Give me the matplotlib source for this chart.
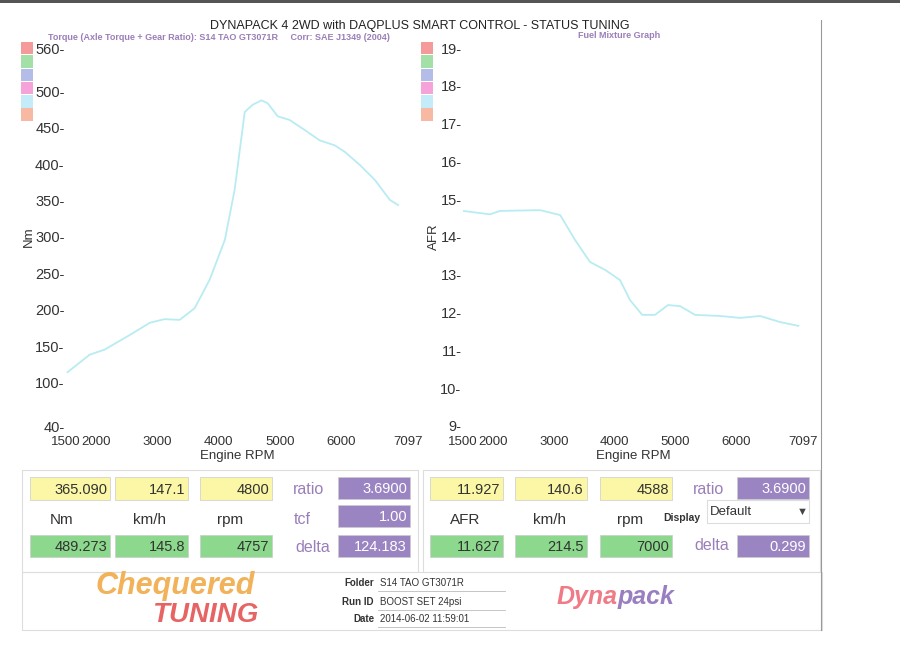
import matplotlib
matplotlib.use("Agg")
import matplotlib.pyplot as plt
from matplotlib.patches import Rectangle

plt.rcParams['font.family'] = ['Liberation Sans', 'DejaVu Sans']

rpm_t = [1525, 1885, 2130, 2540, 2870, 3115, 3360, 3605, 3850, 4100, 4260, 4425, 4555, 4700, 4800,
         4965, 5160, 5410, 5650, 5900, 6065, 6310, 6560, 6800, 6935]
torque = [114, 138, 145, 165, 182, 187, 186, 202, 241, 296, 365, 472, 482, 488, 484,
          466, 461, 447, 433, 426, 417, 399, 378, 351, 344]
rpm_a = [1500, 1945, 2110, 2770, 3100, 3345, 3590, 3840, 4085, 4250, 4450, 4660, 4875, 5075,
         5320, 5735, 6065, 6390, 6720, 7020]
afr = [14.69, 14.6, 14.69, 14.71, 14.58, 13.92, 13.34, 13.13, 12.86, 12.33, 11.94, 11.94, 12.2,
       12.17, 11.94, 11.91, 11.86, 11.91, 11.75, 11.65]
x_ticks = [1500, 2000, 3000, 4000, 5000, 6000, 7097]
t_ticks = [40, 100, 150, 200, 250, 300, 350, 400, 450, 500, 560]
a_ticks = [9, 10, 11, 12, 13, 14, 15, 16, 17, 18, 19]

W, H = 900, 654
fig = plt.figure(figsize=(9, 6.54), dpi=100)
fig.patch.set_facecolor('white')
CURVE = '#b8ecf2'
PURP = '#9b7fb8'
TXT = '#333333'

def ax_px(x0, y0, x1, y1):
    return fig.add_axes([x0 / W, 1 - y1 / H, (x1 - x0) / W, (y1 - y0) / H])

def rect(x, y, w, h, fc, ec='none', lw=0.8):
    fig.patches.append(Rectangle((x / W, 1 - (y + h) / H), w / W, h / H, transform=fig.transFigure,
                                 facecolor=fc, edgecolor=ec, linewidth=lw))

def text(x, y, s, **kw):
    fig.text(x / W, 1 - y / H, s, **kw)

def style(ax, yt, ylab):
    ax.set_xlim(1500, 7097)
    for s in ax.spines.values():
        s.set_visible(False)
    ax.set_xticks(x_ticks)
    ax.set_yticks(yt)
    ax.set_yticklabels([f"{v}-" for v in yt])
    ax.tick_params(axis='y', length=0, labelsize=10.5, colors=TXT, pad=1)
    ax.tick_params(axis='x', length=0, labelsize=9.5, colors=TXT, pad=7)
    ax.set_xlabel('Engine RPM', fontsize=9.5, color=TXT, labelpad=2)
    ax.set_ylabel(ylab, fontsize=9.5, color=TXT, labelpad=0)
    ax.patch.set_alpha(0)

ax1 = ax_px(66, 48, 408, 426)
ax1.plot(rpm_t, torque, color=CURVE, lw=1.3)
ax1.set_ylim(40, 560)
style(ax1, t_ticks, 'Nm')

ax2 = ax_px(463, 48, 803, 426)
ax2.plot(rpm_a, afr, color=CURVE, lw=1.3)
ax2.set_ylim(9, 19)
style(ax2, a_ticks, 'AFR')

# swatches
sw = ['#f59a9a', '#a2e0a8', '#b4bde8', '#f5a3d8', '#c3ecf8', '#f8b9a4']
for xs in (21, 421):
    for i, c in enumerate(sw):
        rect(xs, 42 + i * 13.3, 12, 12.3, c)

# page elements
rect(0, 0, 900, 3, '#555555')
fig.lines.append(plt.Line2D([821 / W, 821 / W], [1 - 20 / H, 1 - 630 / H], transform=fig.transFigure,
                            color='#999999', lw=0.8))
text(420, 26, 'DYNAPACK 4 2WD with DAQPLUS SMART CONTROL - STATUS TUNING', ha='center', va='center',
     fontsize=9, color='#222222')
text(48, 37, 'Torque (Axle Torque + Gear Ratio): S14 TAO GT3071R     Corr: SAE J1349 (2004)', ha='left',
     va='center', fontsize=6.5, color=PURP, fontweight='bold')
text(660, 36, 'Fuel Mixture Graph', ha='right', va='center', fontsize=6.5, color=PURP, fontweight='bold')

# bottom panels
rect(22, 470, 396, 102, 'none', ec='#dddddd')
rect(423, 470, 397, 102, 'none', ec='#dddddd')
YEL, GRN, VIO = '#fbf7a6', '#8cd98e', '#9b84c2'

def vbox(x, y, w, h, fc, s, tc='#333333'):
    rect(x, y, w, h, fc, ec='#cccccc', lw=0.5)
    text(x + w - 3, y + h / 2 + 1, s, ha='right', va='center', fontsize=10.5, color=tc)

row1 = ['365.090', '147.1', '4800']
row3 = ['489.273', '145.8', '4757']
row1r = ['11.927', '140.6', '4588']
row3r = ['11.627', '214.5', '7000']
lx = [(30, 80), (115, 73), (200, 72)]
rx = [(430, 73), (515, 72), (600, 72)]
for (x, w), a, b in zip(lx, row1, row3):
    vbox(x, 477, w, 23, YEL, a)
    vbox(x, 535, w, 22, GRN, b)
for (x, w), a, b in zip(rx, row1r, row3r):
    vbox(x, 477, w, 23, YEL, a)
    vbox(x, 535, w, 22, GRN, b)
vbox(338, 477, 72, 22, VIO, '3.6900', 'white')
vbox(338, 505, 72, 22, VIO, '1.00', 'white')
vbox(338, 535, 72, 22, VIO, '124.183', 'white')
vbox(737, 477, 72, 22, VIO, '3.6900', 'white')
vbox(737, 535, 72, 22, VIO, '0.299', 'white')
for x, s in [(62, 'Nm'), (150, 'km/h'), (230, 'rpm'), (465, 'AFR'), (550, 'km/h'), (630, 'rpm')]:
    text(x, 520, s, ha='center', va='center', fontsize=11, color=TXT)
for x, y, s in [(308, 490, 'ratio'), (302, 519, 'tcf'), (313, 547, 'delta'), (708, 490, 'ratio'),
                (712, 546, 'delta')]:
    text(x, y, s, ha='center', va='center', fontsize=11.5, color=PURP)
text(682, 518, 'Display', ha='center', va='center', fontsize=7.5, color=TXT, fontweight='bold')
rect(707, 500, 102, 23, 'white', ec='#dddddd')
text(710, 512, 'Default', ha='left', va='center', fontsize=9.5, color=TXT)
text(802, 512, '▼', ha='center', va='center', fontsize=8, color='#444444')

# footer
rect(22, 572, 800, 58, 'none', ec='#dddddd')
text(175, 586, 'Chequered', ha='center', va='center', fontsize=22, color='#f2b25a', fontweight='bold',
     style='italic')
text(205, 615, 'TUNING', ha='center', va='center', fontsize=20, color='#e76464', fontweight='bold',
     style='italic')
for y, lab, val in [(583, 'Folder', 'S14 TAO GT3071R'), (602, 'Run ID', 'BOOST SET 24psi'),
                    (619, 'Date', '2014-06-02 11:59:01')]:
    text(374, y, lab, ha='right', va='center', fontsize=7, color=TXT, fontweight='bold')
    text(380, y, val, ha='left', va='center', fontsize=7, color=TXT)
    fig.lines.append(plt.Line2D([378 / W, 505 / W], [1 - (y + 8) / H] * 2, transform=fig.transFigure,
                                color='#bbbbbb', lw=0.6))
text(618, 597, 'Dyna', ha='right', va='center', fontsize=18, color='#ef7b86', fontweight='bold',
     style='italic')
text(618, 597, 'pack', ha='left', va='center', fontsize=18, color='#9a7fc0', fontweight='bold',
     style='italic')

fig.savefig('out.png', dpi=100)
